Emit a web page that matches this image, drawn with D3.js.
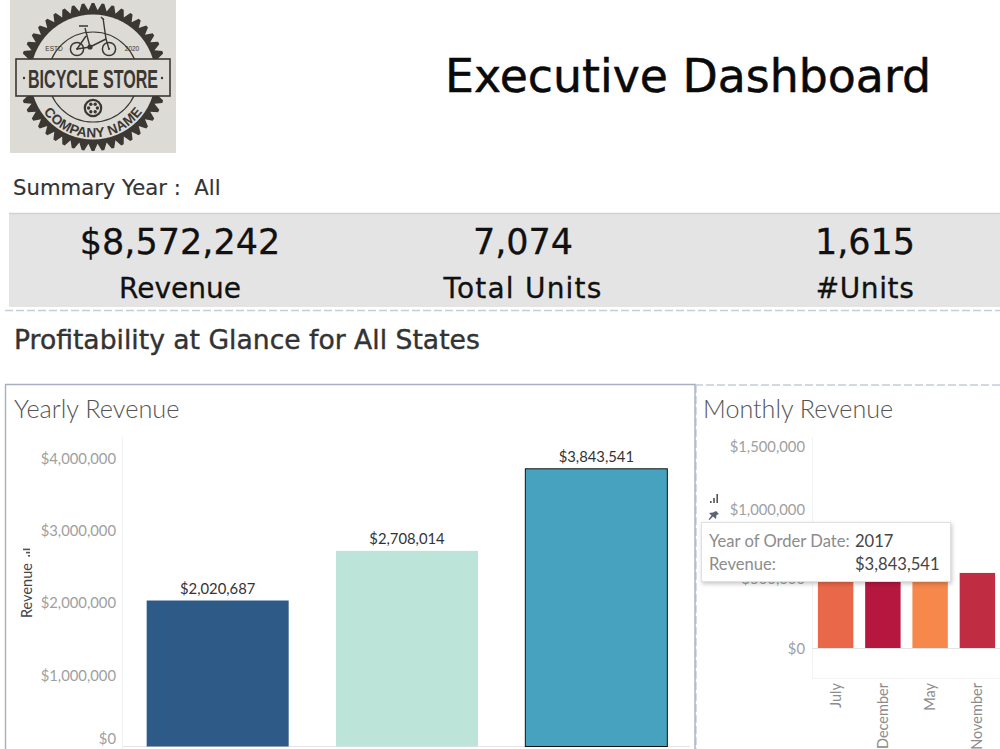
<!DOCTYPE html>
<html><head><meta charset="utf-8">
<script src="https://cdn.jsdelivr.net/npm/d3@7"></script>
<style>
html,body{margin:0;padding:0;background:#fff;overflow:hidden}
svg{display:block}
</style></head><body>
<svg id="c" width="1000" height="749"></svg>
<script>
const years = [2015, 2016, 2017];
const yearlyRevenue = [2020687, 2708014, 3843541];
const yearlyColors = ["#2d5a86", "#bde4d9", "#47a2bf"];
const yearlyTicks = [0, 1000000, 2000000, 3000000, 4000000];
const months = ["July", "December", "May", "November"];
const monthlyRevenue = [640000, 610000, 575000, 540000];
const monthlyColors = ["#e9684a", "#b5173f", "#f6884c", "#c02d42"];
const monthlyTicks = [0, 500000, 1000000, 1500000];
const kpiValues = ["$8,572,242", "7,074", "1,615"];
const kpiLabels = ["Revenue", "Total Units", "#Units"];

const svg = d3.select("#c");
const defs = svg.append("defs");
const f = defs.append("filter").attr("id","sh").attr("x","-10%").attr("y","-20%").attr("width","120%").attr("height","150%");
f.append("feDropShadow").attr("dx",1).attr("dy",2).attr("stdDeviation",2).attr("flood-color","#000").attr("flood-opacity",.22);

const UI = "'DejaVu Sans',sans-serif", LT = "Lato,sans-serif";
const txt = (x,y,s,size,fill,fam,anchor="start",weight=400)=>svg.append("text").attr("x",x).attr("y",y).text(s)
  .attr("font-size",size).attr("fill",fill).attr("font-family",fam).attr("text-anchor",anchor).attr("font-weight",weight);
const heavy = (sel,w)=>sel.attr("stroke",sel.attr("fill")).attr("stroke-width",w);

/* ---------- logo ---------- */
const logo = svg.append("g");
const INK = "#3b3733", PAPER = "#dcdbd6";
const NARROW = "'Liberation Sans',sans-serif";
logo.append("rect").attr("x",10).attr("y",0).attr("width",166).attr("height",153).attr("fill",PAPER);
const lg = logo.append("g").attr("transform","translate(93,77)");
const nT = 46;
const gearPts = d3.range(nT).flatMap(i=>{
  const a = i/nT*2*Math.PI, d = 2*Math.PI/nT;
  return [[a-d*.5,67],[a-d*.13,74],[a+d*.13,74]];
}).map(([a,r])=>[r*Math.sin(a),-r*Math.cos(a)]);
lg.append("path").attr("d",d3.line().curve(d3.curveLinearClosed)(gearPts)).attr("fill",INK);
lg.append("circle").attr("r",62.5).attr("fill",PAPER);
lg.append("circle").attr("r",45).attr("fill","none").attr("stroke",INK).attr("stroke-width",1.2);
lg.append("rect").attr("x",-77).attr("y",-18).attr("width",154).attr("height",37).attr("fill",PAPER).attr("stroke",INK).attr("stroke-width",1.6);
lg.append("text").attr("y",10.5).attr("text-anchor","middle").attr("font-family",NARROW).attr("font-weight",700)
  .attr("font-size",26.5).attr("fill",INK).attr("textLength",130).attr("lengthAdjust","spacingAndGlyphs").text("BICYCLE STORE");
lg.append("circle").attr("cx",-69).attr("r",1.2).attr("fill",INK).attr("cy",1);
lg.append("circle").attr("cx",69).attr("r",1.2).attr("fill",INK).attr("cy",1);
defs.append("path").attr("id","arc").attr("d","M -60.5 0 A 60.5 60.5 0 0 0 60.5 0");
lg.append("text").attr("font-family",NARROW).attr("font-weight",700).attr("font-size",13.6)
  .attr("fill",INK).attr("text-anchor","middle").attr("letter-spacing",.3)
  .append("textPath").attr("href","#arc").attr("startOffset","50%").text("COMPANY NAME");
// sprocket
lg.append("circle").attr("cy",31).attr("r",8.2).attr("fill","none").attr("stroke",INK).attr("stroke-width",2.2);
d3.range(6).forEach(i=>lg.append("circle").attr("cx",4.4*Math.cos(i*Math.PI/3)).attr("cy",31+4.4*Math.sin(i*Math.PI/3)).attr("r",1.7).attr("fill",INK));
// bicycle
[[-16,-28],[16,-28]].forEach(([x,y])=>{
  lg.append("circle").attr("cx",x).attr("cy",y).attr("r",6.6).attr("fill","none").attr("stroke",INK).attr("stroke-width",1.5);
  lg.append("circle").attr("cx",x).attr("cy",y).attr("r",1).attr("fill",INK);
});
lg.append("path").attr("d","M10 -59 L13 -38 L16 -28 M13 -38 L-3 -30 L-16 -28 M-8 -49 L-3 -30 M-16 -28 L-7 -41 M-14 -51 L-5 -51 M8 -60 L11 -57")
  .attr("fill","none").attr("stroke",INK).attr("stroke-width",1.4);
lg.append("circle").attr("cx",-3).attr("cy",-30).attr("r",2.6).attr("fill",INK);
[[-39,"ESTD"],[39,"2020"]].forEach(([x,s])=>lg.append("text").attr("x",x).attr("y",-26).attr("text-anchor","middle").attr("font-size",6.5)
  .attr("fill",INK).attr("font-family",NARROW).text(s));

/* ---------- header ---------- */
heavy(txt(445,92,"Executive Dashboard",45.8,"#0a0a0a",UI),.5);
heavy(txt(13,195,"Summary Year :  All",21.2,"#333",UI),.15).attr("xml:space","preserve");

/* ---------- KPI band ---------- */
svg.append("rect").attr("x",9).attr("y",213).attr("width",991).attr("height",94).attr("fill","#e4e4e4");
svg.append("line").attr("x1",9).attr("x2",1000).attr("y1",213.5).attr("y2",213.5).attr("stroke","#d2d2d2").attr("stroke-width",1.5);
const kpiX = d3.scalePoint().domain(kpiLabels).range([180,865]);
kpiLabels.forEach((l,i)=>{
  heavy(txt(kpiX(l)+(i===1?.5:0),254,kpiValues[i],35,"#111",UI,"middle"),.3);
  heavy(txt(kpiX(l)+(i===1?.5:0),298,l,28,"#111",UI,"middle"),.3).attr("letter-spacing",[0,1.2,.6][i]);
});

/* ---------- dividers ---------- */
const dash = (x1,y1,x2,y2)=>svg.append("line").attr("x1",x1).attr("x2",x2).attr("y1",y1).attr("y2",y2)
  .attr("stroke","#c3cddc").attr("stroke-width",1.4).attr("stroke-dasharray","8 3");
dash(5,310.5,1000,310.5);
dash(695,385,1000,385);
dash(696,385,696,749);
heavy(txt(14,349,"Profitability at Glance for All States",26.6,"#333",UI),.4);

/* ---------- yearly panel ---------- */
svg.append("path").attr("d","M5.5 749 V384.5 H695 V749").attr("fill","none").attr("stroke","#a7b0c3").attr("stroke-width",1.4);
txt(14,418,"Yearly Revenue",25.3,"#555",LT,"start",300);

const yX = d3.scaleBand().domain(years).range([123,691]).paddingInner(.25).paddingOuter(.125);
const yY = d3.scaleLinear().domain([0,4000000]).range([746.5,457.5]);
svg.append("line").attr("x1",122.5).attr("x2",122.5).attr("y1",437).attr("y2",749).attr("stroke","#f2f2f2");
svg.append("line").attr("x1",123).attr("x2",690).attr("y1",746.5).attr("y2",746.5).attr("stroke","#e4e4e4");
const axStyle = g=>{
  g.select(".domain").remove();
  g.selectAll(".tick line").remove();
  g.selectAll("text").attr("font-family",LT).attr("fill","#a0a0a0").attr("font-size",14.8);
};
svg.append("g").attr("transform","translate(122,1)")
  .call(d3.axisLeft(yY).tickValues(yearlyTicks).tickFormat(d3.format("$,")).tickSize(0).tickPadding(6))
  .call(axStyle)
  // the lowest label sits above the edge of the window, as in the reference
  .call(g=>g.selectAll(".tick").filter(d=>d===0).select("text").attr("dy","-0.28em"));
svg.append("g").selectAll("rect").data(years).join("rect")
  .attr("x",d=>yX(d)).attr("width",yX.bandwidth())
  .attr("y",(d,i)=>yY(yearlyRevenue[i])).attr("height",(d,i)=>yY(0)-yY(yearlyRevenue[i]))
  .attr("fill",(d,i)=>yearlyColors[i])
  .attr("stroke",(d,i)=>i===2?"#111":"none").attr("stroke-width",1);
svg.append("g").selectAll("text").data(years).join("text")
  .attr("x",d=>yX(d)+yX.bandwidth()/2).attr("y",(d,i)=>yY(yearlyRevenue[i])-6.5)
  .attr("text-anchor","middle").attr("font-family",LT).attr("font-size",14.8).attr("fill","#333")
  .text((d,i)=>d3.format("$,")(yearlyRevenue[i]));
svg.append("text").attr("transform","translate(32,618) rotate(-90)").attr("font-family",LT).attr("font-size",14.5).attr("fill","#444").text("Revenue");
// sort indicator beside axis title
[[0,2],[1,4],[2,7]].forEach(([i,w])=>svg.append("rect").attr("x",30-w).attr("y",555-i*3.2).attr("width",w).attr("height",1.6).attr("fill","#555"));

/* ---------- monthly panel ---------- */
txt(703,418,"Monthly Revenue",25.1,"#555",LT,"start",300);
const mX = d3.scaleBand().domain(months).range([812,1001]).paddingInner(.25).paddingOuter(.125);
const mY = d3.scaleLinear().domain([0,1000000,1500000]).range([648,509,446]);
svg.append("line").attr("x1",812.5).attr("x2",812.5).attr("y1",437).attr("y2",678).attr("stroke","#f2f2f2");
svg.append("line").attr("x1",812).attr("x2",1000).attr("y1",678.5).attr("y2",678.5).attr("stroke","#f2f2f2");
svg.append("line").attr("x1",812).attr("x2",1000).attr("y1",648.5).attr("y2",648.5).attr("stroke","#e4e4e4");
svg.append("g").attr("transform","translate(811,0.5)")
  .call(d3.axisLeft(mY).tickValues(monthlyTicks).tickFormat(d3.format("$,")).tickSize(0).tickPadding(6))
  .call(axStyle);
svg.append("g").selectAll("rect").data(months).join("rect")
  .attr("x",d=>mX(d)).attr("width",mX.bandwidth())
  .attr("y",(d,i)=>mY(monthlyRevenue[i])).attr("height",(d,i)=>mY(0)-mY(monthlyRevenue[i]))
  .attr("fill",(d,i)=>monthlyColors[i]);
svg.append("g").selectAll("text").data(months).join("text")
  .attr("transform",d=>`translate(${mX(d)+mX.bandwidth()/2+5},683) rotate(-90)`)
  .attr("text-anchor","end").attr("font-family",LT).attr("font-size",14.5).attr("fill","#8c8c8c").text(d=>d);
// toolbar icons
[[0,2],[1,5],[2,9]].forEach(([i,h])=>svg.append("rect").attr("x",710+i*3.2).attr("y",503-h).attr("width",1.6).attr("height",h).attr("fill","#555"));
svg.append("path").attr("d","M716 511 L719 514 L716.5 515 L716 519 L713 516.5 L709.5 520 L708.5 519.5 L711.5 515.5 L709 513 L713 512.5 Z").attr("fill","#5b6470");

/* ---------- tooltip ---------- */
svg.append("rect").attr("x",701.5).attr("y",522.5).attr("width",249).attr("height",59).attr("fill","#fff").attr("stroke","#e0e0e0").attr("filter","url(#sh)");
txt(709,547,"Year of Order Date:",16.6,"#8c8c8c",LT);
txt(709,570,"Revenue:",16.6,"#8c8c8c",LT);
txt(855,547,String(years[2]),16.6,"#444",LT);
txt(855,570,d3.format("$,")(yearlyRevenue[2]),16.6,"#444",LT);
</script>
</body></html>
